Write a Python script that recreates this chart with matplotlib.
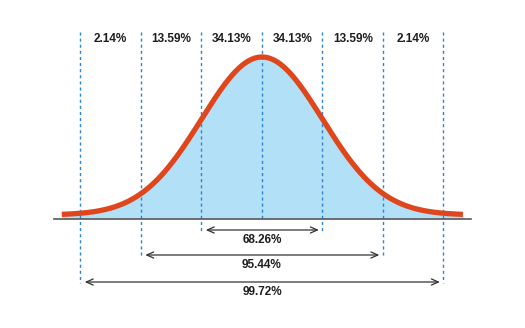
import matplotlib.pyplot as plt
import numpy as np

# sigma boundaries and the share of the normal curve in each band
sigma_edges = [-3, -2, -1, 0, 1, 2, 3]
band_labels = ['2.14%', '13.59%', '34.13%', '34.13%', '13.59%', '2.14%']
band_centers = [-2.5, -1.5, -0.5, 0.5, 1.5, 2.5]
range_sigmas = [1, 2, 3]
range_labels = ['68.26%', '95.44%', '99.72%']

# drawing constants (vertical units are roughly pixels above the baseline)
curve_color = '#e0461c'
fill_color = '#b2e0f6'
dash_color = '#2a85d8'
text_color = '#1e1e1e'
peak = 158
lift = 4

fig = plt.figure(figsize=(5.25, 3.28), dpi=100)
ax = fig.add_axes([0, 0, 1, 1])
ax.set_xlim(-262 / 60.5, (525 - 262) / 60.5)
ax.set_ylim(-109, 219)
ax.axis('off')

# normal curve
z = np.linspace(-3.31, 3.32, 600)
pdf = np.exp(-z**2 / 2)
y = lift + peak * pdf
ax.fill_between(z, 0, y, color=fill_color, lw=0, zorder=1)
ax.plot(z, y, color=curve_color, lw=3.8, solid_capstyle='butt', zorder=4)

# baseline
ax.plot([-3.44, 3.45], [0, 0], color='#5a5a5a', lw=1.2, zorder=3)

# dashed sigma lines, longer ones reach down to their range arrow
bottoms = {0: 0, 1: -12, 2: -37, 3: -64}
for s in sigma_edges:
    ax.plot([s, s], [187, bottoms[abs(s)]], color=dash_color, lw=1.0,
            ls=(0, (2.2, 2.2)), zorder=2)

# percentages of each band along the top
for c, lab in zip(band_centers, band_labels):
    ax.text(c, 180, lab, ha='center', va='center', fontsize=8.5,
            fontweight='bold', color=text_color, family='Liberation Sans')

# range arrows under the baseline
for s, lab in zip(range_sigmas, range_labels):
    ya = bottoms[s] + 1
    ax.annotate('', xy=(s - 0.06, ya), xytext=(-s + 0.07, ya),
                arrowprops=dict(arrowstyle='<->,head_length=0.5,head_width=0.22',
                                color='#333333', lw=0.9,
                                shrinkA=0, shrinkB=0))
    ax.text(0, ya - 10, lab, ha='center', va='center', fontsize=8.5,
            fontweight='bold', color=text_color, family='Liberation Sans')

fig.savefig('out.png', dpi=100)
